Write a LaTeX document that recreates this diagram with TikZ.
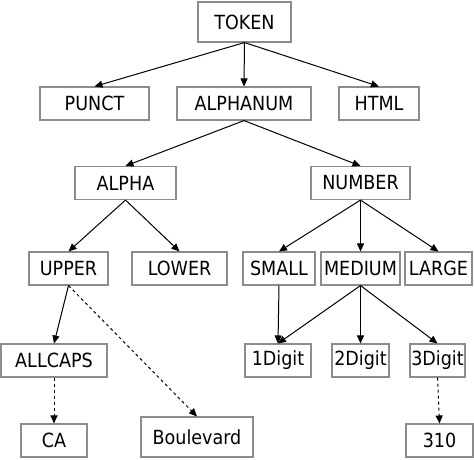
\documentclass[tikz,border=0pt]{standalone}
\usepackage{fontspec}
\setmainfont{DejaVu Sans Condensed}
\usetikzlibrary{arrows.meta}
\tikzset{
  box/.style={draw=black!45, line width=1.1pt, minimum height=33pt, inner sep=0pt},
  link/.style={-{Triangle[length=8pt,width=7pt]}, line width=1pt},
}
\begin{document}
\begin{tikzpicture}[x=1pt,y=-1pt] \fontsize{19.5}{22}\selectfont
        \useasboundingbox (0,0) rectangle (474,459);

        \node[box, minimum width=93, minimum height=40] (tok) at (244.5, 22) {TOKEN};

        \node[box, minimum width=109] (punct) at (94.5, 103.5) {PUNCT};
        \node[box, minimum width=134] (alnum) at (244, 103.5) {ALPHANUM};
        \node[box, minimum width=80] (html) at (379, 103.5) {HTML};

        \node[box, minimum width=101] (alpha) at (125.5, 183) {ALPHA};
        \node[box, minimum width=99] (num) at (360.5, 183) {NUMBER};

        \node[box, minimum width=79] (upper) at (68.5, 268.5) {UPPER};
        \node[box, minimum width=95] (lower) at (179.5, 268.5) {LOWER};
        \node[box, minimum width=72] (small) at (279, 268.5) {SMALL};
        \node[box, minimum width=79] (medium) at (360.5, 268.5) {MEDIUM};
        \node[box, minimum width=67] (large) at (438.5, 268.5) {LARGE};

        \node[box, minimum width=106] (caps) at (54, 360.5) {ALLCAPS};
        \node[box, minimum width=66] (d1) at (278, 360.5) {1Digit};
        \node[box, minimum width=57] (d2) at (360.5, 360.5) {2Digit};
        \node[box, minimum width=55] (d3) at (437.5, 360.5) {3Digit};

        \node[box, minimum width=66] (ca) at (54, 440.5) {CA};
        \node[box, minimum width=112, minimum height=40] (blvd) at (197, 437) {Boulevard};
        \node[box, minimum width=67] (n310) at (439.5, 440.5) {310};

        \begin{scope}[every path/.style={link}]
        \draw (tok.south) -- (punct.north);
        \draw (tok.south) -- (alnum.north);
        \draw (tok.south) -- (html.north);
        \draw (alnum.south) -- (alpha.north);
        \draw (alnum.south) -- (num.north);
        \draw (alpha.south) -- (upper.north);
        \draw (alpha.south) -- (lower.north);
        \draw (num.south) -- (small.north);
        \draw (num.south) -- (medium.north);
        \draw (num.south) -- (large.north);
        \draw (upper.south) -- (caps.north);
        \draw (small.south) -- (d1.north);
        \draw (medium.south) -- (d1.north);
        \draw (medium.south) -- (d2.north);
        \draw (medium.south) -- (d3.north);
        \draw[dashed] (upper.south) -- (blvd.north);
        \draw[dashed] (caps.south) -- (ca.north);
        \draw[dashed] (d3.south) -- (n310.north);
        \end{scope}

        \end{tikzpicture}
\end{document}
